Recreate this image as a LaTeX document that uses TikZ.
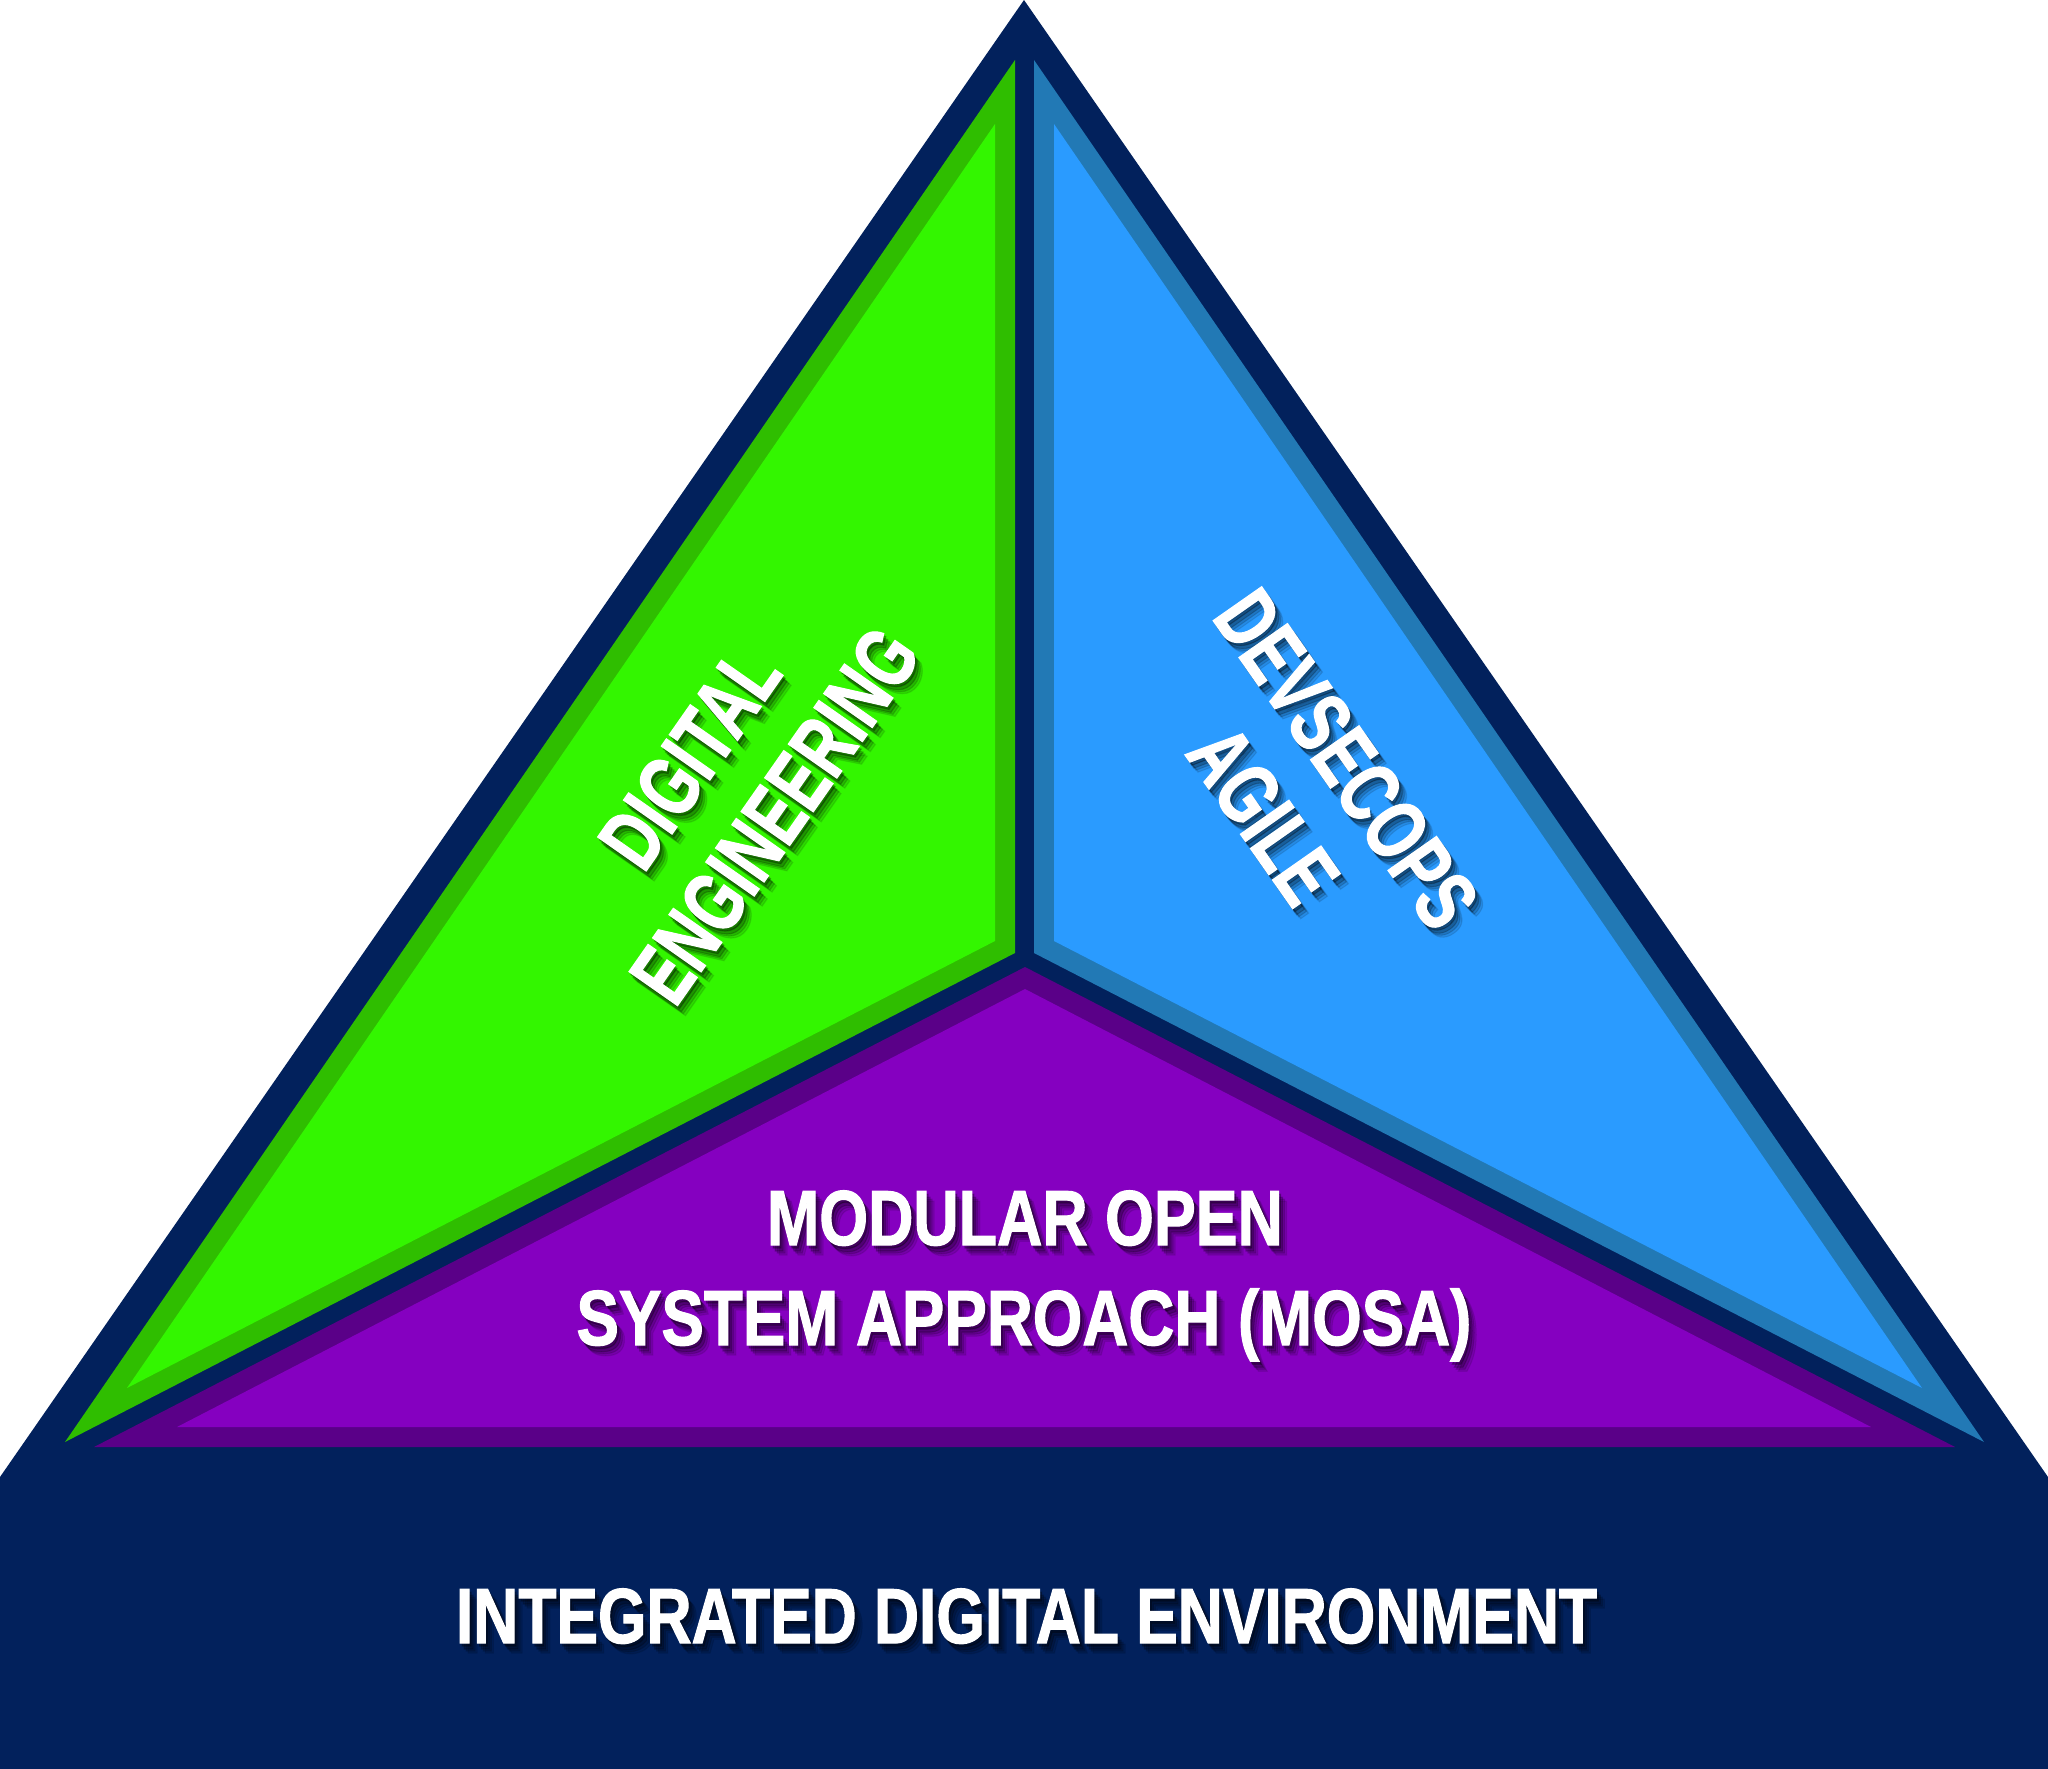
\documentclass[tikz,border=0pt]{standalone}
\usepackage{graphicx}
\usepackage{fontspec}
\setmainfont{Liberation Sans}
\newfontfamily\heavyfont{Liberation Sans Bold}[FakeBold=1.6]
\definecolor{navy}{HTML}{02215C}
\definecolor{greenin}{HTML}{33F600}
\definecolor{greenout}{HTML}{2FBE00}
\definecolor{bluein}{HTML}{2A9BFF}
\definecolor{blueout}{HTML}{2279B5}
\definecolor{purpin}{HTML}{8500C0}
\definecolor{purpout}{HTML}{5A0088}
\tikzset{
  label text/.style={inner sep=0pt, text height=56pt, text depth=0pt, anchor=center,
    font=\heavyfont\fontsize{78}{94}\selectfont},
}
% #1 name, #2 x, #3 y, #4 rotation, #5 width, #6 height factor, #7 text
\newcommand\softlabel[7]{%
  \foreach \dx/\dy/\op in {8/10/0.10,6/8/0.14,4/6/0.20,2/3/0.25}{%
    \node[label text, rotate=#4, text=black, text opacity=\op] at (#2+\dx,#3+\dy)
      {\resizebox{#5pt}{#6\height}{#7}};
  }%
  \node[label text, rotate=#4, text=white] (#1) at (#2,#3)
    {\resizebox{#5pt}{#6\height}{#7}};
}
\begin{document}
\begin{tikzpicture}[x=1pt,y=-1pt]
\useasboundingbox (0,0) rectangle (2048,1769);
% base
\fill[navy] (1024,0) -- (2048,1477) -- (2048,1769) -- (0,1769) -- (0,1477) -- cycle;
% green
\fill[greenout] (1015,60) -- (1015,953) -- (65,1442) -- cycle;
\fill[greenin] (995,124) -- (995,941) -- (127,1388) -- cycle;
% blue
\fill[blueout] (1034,60) -- (1034,953) -- (1984,1442) -- cycle;
\fill[bluein] (1054,124) -- (1054,941) -- (1922,1388) -- cycle;
% purple
\fill[purpout] (1025,967) -- (1955,1447) -- (94,1447) -- cycle;
\fill[purpin] (1025,989) -- (1871,1427) -- (177,1427) -- cycle;
% labels
\softlabel{ide}{1026.5}{1615}{0}{1141}{1}{INTEGRATED DIGITAL ENVIRONMENT}
\softlabel{modular}{1025}{1217}{0}{516}{1}{MODULAR OPEN}
\softlabel{system}{1024}{1317}{0}{895}{1}{SYSTEM APPROACH (MOSA)}
\softlabel{digital}{691}{758}{55}{245}{1.1}{DIGITAL}
\softlabel{engineering}{776}{816}{55}{432}{1.1}{ENGINEERING}
\softlabel{devsecops}{1345}{760}{-55}{388}{1.1}{DEVSECOPS}
\softlabel{agile}{1262}{816}{-55}{192}{1.1}{AGILE}
\end{tikzpicture}
\end{document}
